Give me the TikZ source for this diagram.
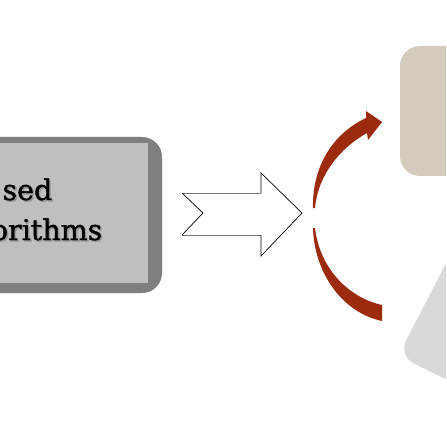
\documentclass[tikz,border=0pt]{standalone}
\usepackage{fontspec}
\newfontfamily\slabfont[FakeBold=1.2]{DejaVu Serif}
\definecolor{boxdark}{HTML}{7F7F7F}
\definecolor{boxlight}{HTML}{BFBFBF}
\definecolor{beige}{HTML}{D3CBBD}
\definecolor{lgray}{HTML}{D9D9D9}
\definecolor{rust}{HTML}{9C2A0C}
\tikzset{
  lbl/.style={font=\slabfont\fontsize{28.5}{32}\selectfont, anchor=base east, inner sep=0pt, text=black},
  lblshadow/.style={lbl, text=black!40},
  arc/.style={fill=rust, draw=none},
}
\begin{document}
\begin{tikzpicture}[x=1pt,y=-1pt]
\useasboundingbox (0,0) rectangle (446,446);
\fill[white] (0,0) rectangle (446,446);
\begin{scope}
\clip (0,0) rectangle (446,446);
% left box
\fill[boxdark, rounded corners=20pt] (-60,137) rectangle (162,293);
\fill[boxlight] (-60,143) rectangle (148,283);
\node[lblshadow] (t1s) at (54,201.5) {sed};
\node[lbl] (t1) at (52.5,200) {sed};
\node[lblshadow] (t2s) at (104,241.5) {orithms};
\node[lbl] (t2) at (102.5,240) {orithms};
% right top box
\fill[beige, rounded corners=20pt] (400,46) rectangle (480,176);
% right bottom shape
\fill[lgray, rounded corners=18pt] (455,246) -- (398,356) -- (460,386) -- (500,386) -- (500,246) -- cycle;
\end{scope}
% notched arrow
\coordinate (a1) at (182,193);
\coordinate (a2) at (203,213);
\coordinate (a3) at (182,235);
\coordinate (a4) at (261,235);
\coordinate (a5) at (261,256);
\coordinate (a6) at (302,213);
\coordinate (a7) at (261,173);
\coordinate (a8) at (261,193);
\draw[black!55, line width=0.8pt] (a8) -- (a1);
\draw[black!55, line width=0.8pt] (a3) -- (a4);
\draw[black, line width=0.7pt, line join=miter] (a1) -- (a2) -- (a3);
\draw[black, line width=0.7pt, line join=miter] (a4) -- (a5) -- (a6) -- (a7) -- (a8);
% upper curved arrow
\fill[arc] (313,208) .. controls (312,170) and (330,135) .. (366,118)
  -- (366,111) -- (382,122) -- (368,140) -- (367,133)
  .. controls (340,148) and (318,175) .. (315,208) -- cycle;
% lower curved arc
\fill[arc] (313,228) .. controls (314,270) and (340,312) .. (382,321)
  -- (382,305)
  .. controls (350,298) and (320,270) .. (315,228) -- cycle;
\end{tikzpicture}
\end{document}
